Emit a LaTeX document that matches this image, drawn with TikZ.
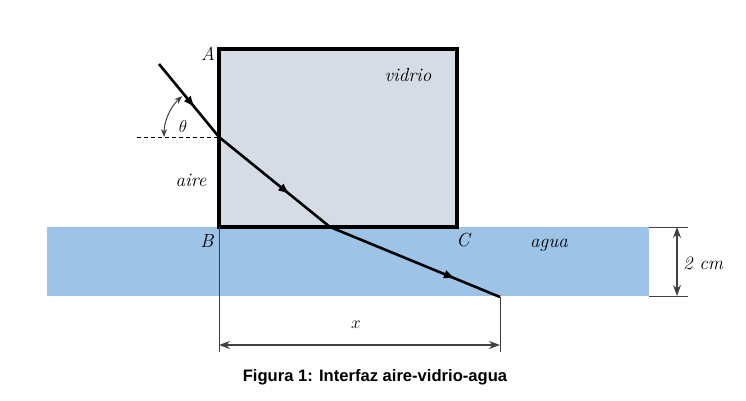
\documentclass[tikz,border=0pt]{standalone}
\usepackage{fontspec}
\newfontfamily\capfont{Liberation Sans}
\usetikzlibrary{arrows.meta,decorations.markings}
\definecolor{aguablue}{RGB}{157,195,230}
\definecolor{vidriogray}{RGB}{214,220,229}
\begin{document}
\begin{tikzpicture}[x=1pt, y=-1pt, ray/.style={line width=2.6pt, postaction={decorate}, decoration={markings, mark=at position #1 with {\arrow{Latex[length=12pt,width=9pt]}}}}, ray/.default=0.5, lbl/.style={font=\fontsize{19}{21}\selectfont\itshape, inner sep=0pt}, dim/.style={draw=black!75, line width=1pt}]

\useasboundingbox (0,0) rectangle (746,401);

\fill[aguablue] (47,227) rectangle (649,296);
\draw[fill=vidriogray, line width=3.2pt] (219,49) rectangle (457,227);

\coordinate (A) at (219,49);
\coordinate (B) at (219,227);
\coordinate (C) at (457,227);
\coordinate (S) at (159,64);
\coordinate (P) at (219,137);
\coordinate (N) at (137,137);
\coordinate (Q) at (330,227);
\coordinate (E) at (500,297);
\coordinate (Bx) at (219,352);
\coordinate (Ex) at (500,352);
\coordinate (XL) at (219,345);
\coordinate (XR) at (500,345);
\coordinate (T1) at (649,227);
\coordinate (T2) at (688,227);
\coordinate (T3) at (649,296);
\coordinate (T4) at (688,296);
\coordinate (H1) at (677,227);
\coordinate (H2) at (677,296);

\node [lbl] (LA) at (208,54) {A};
\node [lbl] (LB) at (207,241) {B};
\node [lbl] (LC) at (463,240) {C};
\node [lbl] (vidrio) at (408,75) {vidrio};
\node [lbl] (aire) at (191,180) {aire};
\node [lbl] (agua) at (549,245) {agua};
\node [lbl] (theta) at (183,126) {$\theta$};
\node [lbl] (x) at (356,325) {$x$};
\node [lbl, anchor=west] (dos) at (683,263) {2 \textit{cm}};

\draw[dashed, dash pattern=on 4pt off 3pt, line width=1pt] (N) -- (P);
\draw[ray=0.6] (S) -- (P);
\draw[ray=0.64] (P) -- (Q);
\draw[ray=0.74] (Q) -- (E);

\draw[dim, {Stealth[length=8pt,width=6pt]}-{Stealth[length=8pt,width=6pt]}] ([shift={(228:55)}]P) arc[start angle=228, end angle=180, radius=55];

\draw[dim, line width=0.8pt] (B) -- (Bx);
\draw[dim, line width=0.8pt] (E) -- (Ex);
\draw[dim, line width=1.3pt, {Stealth[length=11pt,width=8pt]}-{Stealth[length=11pt,width=8pt]}] (XL) -- (XR);

\draw[dim, line width=0.8pt] (T1) -- (T2);
\draw[dim, line width=0.8pt] (T3) -- (T4);
\draw[dim, line width=1.3pt, {Stealth[length=11pt,width=8pt]}-{Stealth[length=11pt,width=8pt]}] (H1) -- (H2);

\node (caption) at (375,377) {\capfont\bfseries\fontsize{16.6}{18}\selectfont Figura 1: Interfaz aire-vidrio-agua};

\end{tikzpicture}
\end{document}
